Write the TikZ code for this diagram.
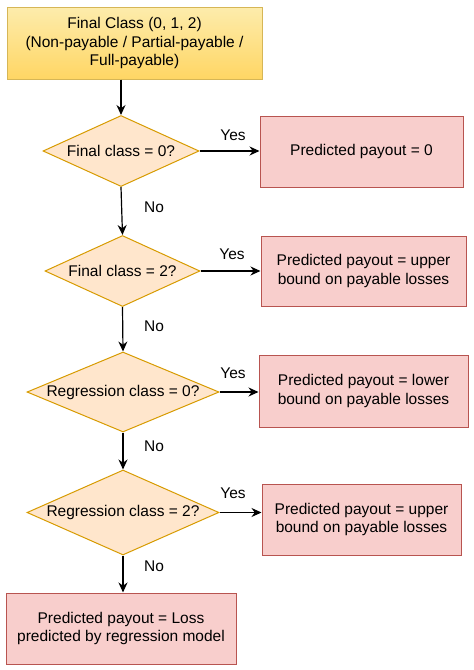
\documentclass[tikz,border=0pt]{standalone}
\usepackage{fontspec}
\setmainfont{Liberation Sans}
\usetikzlibrary{shapes.geometric,arrows.meta}
\definecolor{ybot}{RGB}{255,214,100}
\definecolor{ytop}{RGB}{253,236,172}
\definecolor{ystroke}{RGB}{214,182,86}
\definecolor{ofill}{RGB}{255,230,204}
\definecolor{ostroke}{RGB}{215,155,0}
\definecolor{rfill}{RGB}{248,206,204}
\definecolor{rstroke}{RGB}{184,84,80}
\tikzset{
  txt/.style={font=\fontsize{15.5}{18.5}\selectfont, align=center},
  startbox/.style={draw=ystroke, top color=ytop, bottom color=ybot, line width=1pt, inner sep=0pt},
  decision/.style={diamond, draw=ostroke, fill=ofill, line width=1pt, inner sep=0pt},
  outbox/.style={draw=rstroke, fill=rfill, line width=1pt, inner sep=0pt},
  conn/.style={-{Stealth[length=10pt,width=9pt]}, line width=1.2pt},
  lbl/.style={font=\fontsize{15.5}{18.5}\selectfont}
}
\begin{document}
\begin{tikzpicture}[x=1pt,y=-1pt]
\useasboundingbox (0,0) rectangle (474,670);
% start
\node[startbox, minimum width=255pt, minimum height=72pt] (s) at (134.5,43) {};
\node[txt] at (s) {Final Class (0, 1, 2)\\(Non-payable / Partial-payable /\\Full-payable)};
% decisions
\node[decision, minimum width=156pt, minimum height=71pt] (d1) at (121,151) {};
\node[txt] at (d1) {Final class = 0?};
\node[decision, minimum width=155pt, minimum height=71pt] (d2) at (122.5,271) {};
\node[txt] at (d2) {Final class = 2?};
\node[decision, minimum width=192pt, minimum height=80pt] (d3) at (123,392) {};
\node[txt] at (d3) {Regression class = 0?};
\node[decision, minimum width=192pt, minimum height=85pt] (d4) at (123,512.5) {};
\node[txt] at (d4) {Regression class = 2?};
% outputs
\node[outbox, minimum width=203pt, minimum height=71pt] (o1) at (361.5,151.5) {};
\node[txt] at (o1) {Predicted payout = 0};
\node[outbox, minimum width=205pt, minimum height=70pt] (o2) at (363.5,271) {};
\node[txt] at (o2) {Predicted payout = upper\\bound on payable losses};
\node[outbox, minimum width=209pt, minimum height=72pt] (o3) at (363.5,391) {};
\node[txt] at (o3) {Predicted payout = lower\\bound on payable losses};
\node[outbox, minimum width=199pt, minimum height=71pt] (o4) at (361.5,519.5) {};
\node[txt] at (o4) {Predicted payout = upper\\bound on payable losses};
\node[outbox, minimum width=230pt, minimum height=71pt] (o5) at (121,628.5) {};
\node[txt] at (o5) {Predicted payout = Loss\\predicted by regression model};
% connectors
\draw[conn] (s.south -| d1.north) -- (d1.north);
\draw[conn] (d1.south) -- (d2.north);
\draw[conn] (d2.south) -- (d3.north);
\draw[conn] (d3.south) -- (d4.north);
\draw[conn] (d4.south) -- (d4.south |- o5.north);
\draw[conn] (d1.east) -- (d1.east -| o1.west);
\draw[conn] (d2.east) -- (d2.east -| o2.west);
\draw[conn] (d3.east) -- (d3.east -| o3.west);
\draw[conn] (d4.east) -- (d4.east -| o4.west);
% labels
\node[lbl] (y1) at (233,135) {Yes};
\node[lbl] (y2) at (232,254) {Yes};
\node[lbl] (y3) at (233,373) {Yes};
\node[lbl] (y4) at (233,493) {Yes};
\node[lbl] (n1) at (154,207) {No};
\node[lbl] (n2) at (154,326) {No};
\node[lbl] (n3) at (154,446) {No};
\node[lbl] (n4) at (154,566) {No};
\end{tikzpicture}
\end{document}
